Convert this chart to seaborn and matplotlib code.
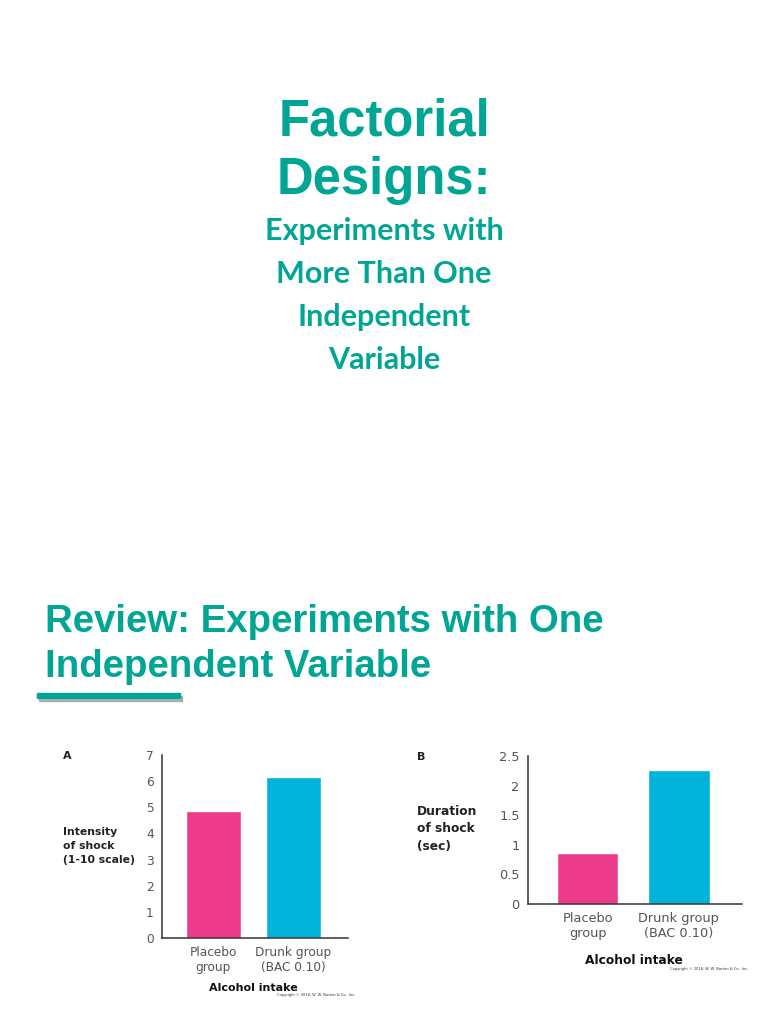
import pandas as pd
import seaborn as sns
import matplotlib.pyplot as plt
from matplotlib.patches import Rectangle
from matplotlib.ticker import FuncFormatter

# Data
groups = ['Placebo\ngroup', 'Drunk group\n(BAC 0.10)']
intensity = [4.85, 6.15]
duration = [0.86, 2.26]
bar_colors = ['#EE3A8A', '#00B3DB']
intensity_ticks = [0, 1, 2, 3, 4, 5, 6, 7]
duration_ticks = [0, 0.5, 1, 1.5, 2, 2.5]

teal = '#00A693'
W, H = 768, 1024

sns.set_theme(style='white')
plt.rcParams['font.family'] = ['DejaVu Sans']

fig = plt.figure(figsize=(7.68, 10.24), dpi=100)


def fx(px):
    return px / W


def fy(py):
    return 1 - py / H


# Slide titles
fig.text(fx(384), fy(136), 'Factorial', ha='center', va='baseline', color=teal,
         fontsize=36.5, fontweight='bold', family=['Liberation Sans', 'DejaVu Sans'])
fig.text(fx(384), fy(194), 'Designs:', ha='center', va='baseline', color=teal,
         fontsize=36.5, fontweight='bold', family=['Liberation Sans', 'DejaVu Sans'])
for i, line in enumerate(['Experiments with', 'More Than One', 'Independent', 'Variable']):
    fig.text(fx(384), fy(240 + i * 43), line, ha='center', va='baseline', color=teal,
             fontsize=22, fontweight='bold', family=['Lato', 'DejaVu Sans'])

fig.text(fx(45), fy(632), 'Review: Experiments with One', ha='left', va='baseline',
         color=teal, fontsize=27.6, fontweight='bold', family=['Liberation Sans', 'DejaVu Sans'])
fig.text(fx(45), fy(677), 'Independent Variable', ha='left', va='baseline',
         color=teal, fontsize=27.6, fontweight='bold', family=['Liberation Sans', 'DejaVu Sans'])

# underline bar with a soft shadow
fig.patches.append(Rectangle((fx(39), fy(701)), fx(143), 5 / H, transform=fig.transFigure,
                             color='#8a8a8a', alpha=0.6, zorder=1))
fig.patches.append(Rectangle((fx(37), fy(698)), fx(143), 5 / H, transform=fig.transFigure,
                             color=teal, zorder=2))


def draw_panel(rect, values, ticks, xlim, width, fs):
    ax = fig.add_axes(rect)
    df = pd.DataFrame({'group': groups, 'value': values})
    sns.barplot(data=df, x='group', y='value', hue='group', palette=bar_colors,
                legend=False, width=width, saturation=1, ax=ax)
    ax.set_ylim(0, ticks[-1])
    ax.set_xlim(*xlim)
    ax.set_yticks(ticks)
    ax.yaxis.set_major_formatter(FuncFormatter(lambda v, p: '%g' % v))
    ax.set_xlabel('')
    ax.set_ylabel('')
    ax.tick_params(length=0, labelsize=fs, colors='#555555', pad=6)
    for s in ['top', 'right']:
        ax.spines[s].set_visible(False)
    for s in ['left', 'bottom']:
        ax.spines[s].set_color('#333333')
        ax.spines[s].set_linewidth(1.1)
    ax.set_facecolor('none')
    return ax


# Panel A
axA = draw_panel([fx(162), fy(938), fx(186), 183 / H], intensity, intensity_ticks,
                 (-0.64, 1.685), 0.69, 8.7)
fig.text(fx(63), fy(756), 'A', ha='left', va='center', fontsize=8, fontweight='bold', color='#222222')
fig.text(fx(63), fy(846), 'Intensity\nof shock\n(1-10 scale)', ha='left', va='center',
         fontsize=7.8, fontweight='bold', color='#222222', linespacing=1.45)
fig.text(fx(253), fy(988), 'Alcohol intake', ha='center', va='center', fontsize=8,
         fontweight='bold', color='#111111')
fig.text(fx(355), fy(995), 'Copyright \u00a9 2018, W. W. Norton & Co., Inc.', ha='right',
         va='center', fontsize=2.6, color='#333333')

# Panel B
axB = draw_panel([fx(528), fy(904), fx(214), 148 / H], duration, duration_ticks,
                 (-0.654, 1.697), 0.68, 9.3)
fig.text(fx(417), fy(757), 'B', ha='left', va='center', fontsize=8, fontweight='bold', color='#222222')
fig.text(fx(417), fy(829), 'Duration\nof shock\n(sec)', ha='left', va='center',
         fontsize=8.8, fontweight='bold', color='#222222', linespacing=1.45)
fig.text(fx(634), fy(961), 'Alcohol intake', ha='center', va='center', fontsize=8.8,
         fontweight='bold', color='#111111')
fig.text(fx(748), fy(969), 'Copyright \u00a9 2018, W. W. Norton & Co., Inc.', ha='right',
         va='center', fontsize=2.6, color='#333333')

fig.savefig('out.png', dpi=100, facecolor='white')
